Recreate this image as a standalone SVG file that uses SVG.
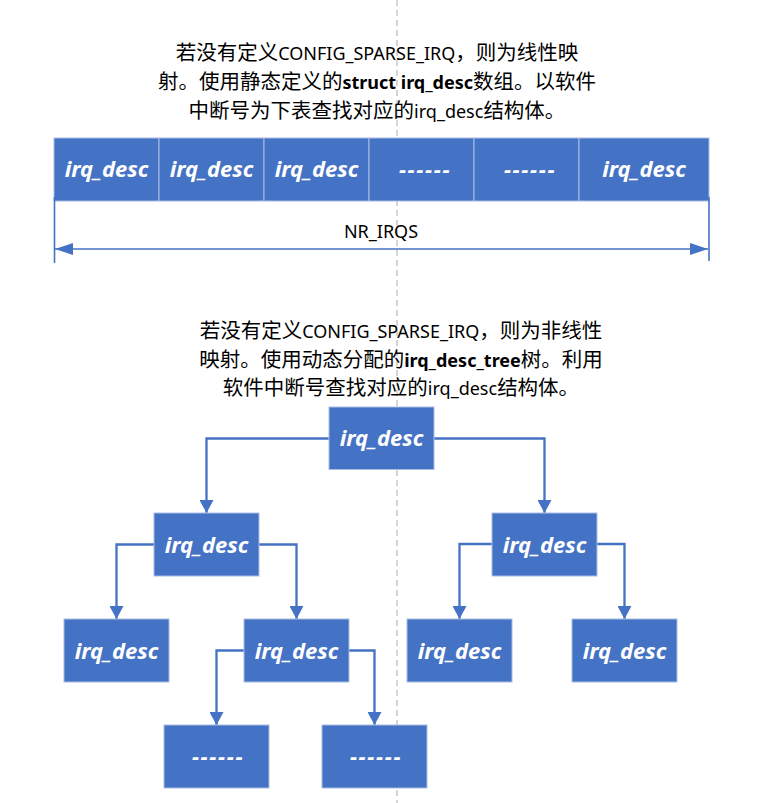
<svg xmlns="http://www.w3.org/2000/svg" width="769" height="803" viewBox="0 0 769 803">
  <style>
    .bg { fill: #ffffff; }
    .box { fill: #4472C4; stroke: #a9bde4; stroke-width: 1; }
    .lbl { font-family: "Noto Sans", "Open Sans", "Liberation Sans", sans-serif; font-size: 22px; font-weight: bold; font-style: italic; fill: #ffffff; text-anchor: middle; }
    .dash { letter-spacing: 1.6px; }
    .txt { font-family: "Noto Sans CJK SC", "Noto Sans", sans-serif; font-size: 20.5px; fill: #000000; text-anchor: middle; }
    .lat { font-family: "Noto Sans", "Noto Sans CJK SC", sans-serif; font-size: 18px; }
    .b { font-weight: bold; }
    .conn { fill: none; stroke: #4472C4; stroke-width: 2.3; }
    .dim { fill: none; stroke: #4472C4; stroke-width: 1.6; }
    .guide { fill: none; stroke: #ababab; stroke-width: 1; stroke-dasharray: 6 4; }
  </style>
  <defs>
    <marker id="arr" markerUnits="userSpaceOnUse" markerWidth="13" markerHeight="14" viewBox="0 0 13 14" refX="13" refY="7" orient="auto-start-reverse">
      <path d="M0,0 L13,7 L0,14 Z" fill="#4472C4"/>
    </marker>
    <marker id="dimarr" markerUnits="userSpaceOnUse" markerWidth="18" markerHeight="12" viewBox="0 0 18 12" refX="18" refY="6" orient="auto-start-reverse">
      <path d="M0,0 L18,6 L0,12 Z" fill="#4472C4"/>
    </marker>
  </defs>
  <rect class="bg" x="0" y="0" width="769" height="803"/>

  <!-- dashed centre guide -->
  <line class="guide" x1="397" y1="0" x2="397" y2="803"/>

  <!-- top description -->
  <g id="text-top">
    <text class="txt" x="377" y="60">若没有定义<tspan class="lat">CONFIG_SPARSE_IRQ</tspan>，则为线性映</text>
    <text class="txt" x="377" y="89">射。使用静态定义的<tspan class="lat b">struct irq_desc</tspan>数组。以软件</text>
    <text class="txt" x="377" y="118">中断号为下表查找对应的<tspan class="lat">irq_desc</tspan>结构体。</text>
  </g>

  <!-- array -->
  <g id="array">
    <g id="cell1"><rect class="box" x="54" y="138" width="105" height="63"/><text class="lbl" x="106.5" y="177">irq_desc</text></g>
    <g id="cell2"><rect class="box" x="159" y="138" width="105" height="63"/><text class="lbl" x="211.5" y="177">irq_desc</text></g>
    <g id="cell3"><rect class="box" x="264" y="138" width="105" height="63"/><text class="lbl" x="316.5" y="177">irq_desc</text></g>
    <g id="cell4"><rect class="box" x="369" y="138" width="105" height="63"/><text class="lbl dash" x="425" y="177">------</text></g>
    <g id="cell5"><rect class="box" x="474" y="138" width="105" height="63"/><text class="lbl dash" x="530" y="177">------</text></g>
    <g id="cell6"><rect class="box" x="579" y="138" width="130" height="63"/><text class="lbl" x="644" y="177">irq_desc</text></g>
  </g>

  <!-- NR_IRQS dimension -->
  <g id="dimension">
    <line class="dim" x1="54.5" y1="197" x2="54.5" y2="263"/>
    <line class="dim" x1="709" y1="197" x2="709" y2="261"/>
    <line class="dim" x1="55" y1="249" x2="708" y2="249" marker-start="url(#dimarr)" marker-end="url(#dimarr)"/>
    <text class="txt lat" x="381" y="238">NR_IRQS</text>
  </g>

  <!-- middle description -->
  <g id="text-mid">
    <text class="txt" x="401" y="338">若没有定义<tspan class="lat">CONFIG_SPARSE_IRQ</tspan>，则为非线性</text>
    <text class="txt" x="401" y="367">映射。使用动态分配的<tspan class="lat b">irq_desc_tree</tspan>树。利用</text>
    <text class="txt" x="401" y="395">软件中断号查找对应的<tspan class="lat">irq_desc</tspan>结构体。</text>
  </g>

  <!-- connectors -->
  <g id="connectors">
    <path class="conn" d="M329,438.5 H206.5 V513" marker-end="url(#arr)"/>
    <path class="conn" d="M434,438.5 H544.5 V513" marker-end="url(#arr)"/>
    <path class="conn" d="M154,544.5 H116.5 V619" marker-end="url(#arr)"/>
    <path class="conn" d="M259,544.5 H296.5 V619" marker-end="url(#arr)"/>
    <path class="conn" d="M492,544 H459.5 V619" marker-end="url(#arr)"/>
    <path class="conn" d="M597,544 H624.5 V619" marker-end="url(#arr)"/>
    <path class="conn" d="M244,650.5 H216.5 V725" marker-end="url(#arr)"/>
    <path class="conn" d="M349,650.5 H374.5 V725" marker-end="url(#arr)"/>
  </g>

  <!-- tree nodes -->
  <g id="root"><rect class="box" x="329" y="407" width="105" height="62.5"/><text class="lbl" x="381.5" y="446">irq_desc</text></g>
  <g id="l2-left"><rect class="box" x="154" y="513" width="105" height="63"/><text class="lbl" x="206.5" y="552.5">irq_desc</text></g>
  <g id="l2-right"><rect class="box" x="492" y="513" width="105" height="63"/><text class="lbl" x="544.5" y="552.5">irq_desc</text></g>
  <g id="l3-a"><rect class="box" x="64" y="619" width="105" height="63"/><text class="lbl" x="116.5" y="658.5">irq_desc</text></g>
  <g id="l3-b"><rect class="box" x="244" y="619" width="105" height="63"/><text class="lbl" x="296.5" y="658.5">irq_desc</text></g>
  <g id="l3-c"><rect class="box" x="407" y="619" width="105" height="63"/><text class="lbl" x="459.5" y="658.5">irq_desc</text></g>
  <g id="l3-d"><rect class="box" x="572" y="619" width="105" height="63"/><text class="lbl" x="624.5" y="658.5">irq_desc</text></g>
  <g id="l4-a"><rect class="box" x="164" y="725" width="105" height="63"/><text class="lbl dash" x="218" y="764">------</text></g>
  <g id="l4-b"><rect class="box" x="322" y="725" width="105" height="63"/><text class="lbl dash" x="376" y="764">------</text></g>
</svg>
